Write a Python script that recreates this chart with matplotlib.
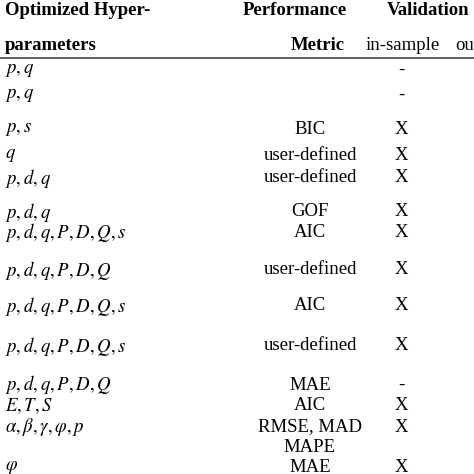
import matplotlib.pyplot as plt

plt.rcParams['mathtext.fontset'] = 'stix'
plt.rcParams['font.family'] = ['Liberation Serif', 'DejaVu Serif']

# table rows: (y in px, hyper-parameters, metric, in-sample)
row_y = [70, 95, 130, 155, 178, 212, 232, 270, 306, 346, 385, 406, 427, 447, 468]
params = [r'$p, q$', r'$p, q$', r'$p, s$', r'$q$', r'$p, d, q$', r'$p, d, q$',
          r'$p, d, q, P, D, Q, s$', r'$p, d, q, P, D, Q$', r'$p, d, q, P, D, Q, s$',
          r'$p, d, q, P, D, Q, s$', r'$p, d, q, P, D, Q$', r'$E, T, S$',
          r'$\alpha, \beta, \gamma, \varphi, p$', '', r'$\varphi$']
metrics = ['', '', 'BIC', 'user-defined', 'user-defined', 'GOF', 'AIC', 'user-defined',
           'AIC', 'user-defined', 'MAE', 'AIC', 'RMSE, MAD', 'MAPE', 'MAE']
in_sample = ['-', '-', 'X', 'X', 'X', 'X', 'X', 'X', 'X', 'X', '-', 'X', 'X', '', 'X']

fig = plt.figure(figsize=(4.74, 4.74), dpi=100)
ax = fig.add_axes([0, 0, 1, 1])
ax.set_xlim(0, 474)
ax.set_ylim(474, 0)
ax.axis('off')

fs = 13.5
ax.text(5, 10, 'Optimized Hyper-', fontsize=fs, fontweight='bold', va='center')
ax.text(5, 45, 'parameters', fontsize=fs, fontweight='bold', va='center')
ax.text(295, 10, 'Performance', fontsize=fs, fontweight='bold', va='center', ha='center')
ax.text(318, 45, 'Metric', fontsize=fs, fontweight='bold', va='center', ha='center')
ax.text(428, 10, 'Validation', fontsize=fs, fontweight='bold', va='center', ha='center')
ax.text(403, 45, 'in-sample', fontsize=fs, va='center', ha='center')
ax.text(455, 45, 'out-of-sample', fontsize=fs, va='center', ha='left')
ax.plot([0, 474], [58, 58], color='#444444', lw=1.2)

for y, p, m, v in zip(row_y, params, metrics, in_sample):
    ax.text(5, y, p, fontsize=fs, va='center')
    ax.text(310, y, m, fontsize=fs, va='center', ha='center')
    ax.text(401, y, v, fontsize=fs, va='center', ha='center')

fig.savefig('out.png', dpi=100)
